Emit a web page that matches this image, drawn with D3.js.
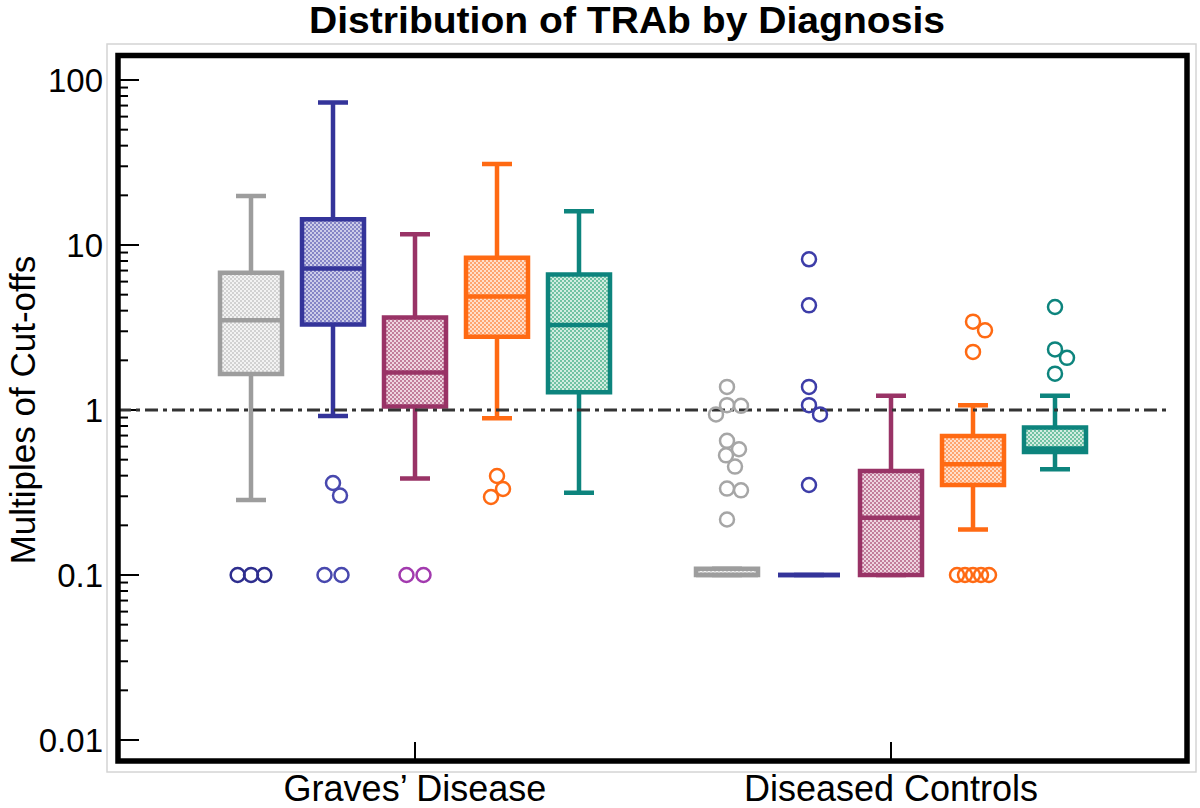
<!DOCTYPE html>
<html>
<head>
<meta charset="utf-8">
<script src="https://cdn.jsdelivr.net/npm/d3@7"></script>
<style>
  body { margin: 0; background: #fff; }
  svg { font-family: "Liberation Sans", Arial, sans-serif; }
</style>
</head>
<body>
<svg width="1200" height="808"></svg>
<script>
// data; every array below is [Graves' Disease, Diseased Controls]
const groups = ["Graves’ Disease", "Diseased Controls"];
const series = ["Assay 1", "Assay 2", "Assay 3", "Assay 4", "Assay 5"];

const whiskerLow  = [[0.285, 0.1], [0.92, 0.1], [0.385, 0.1], [0.89, 0.189], [0.315, 0.437]];
const q1          = [[1.65, 0.1], [3.3, 0.1], [1.05, 0.1], [2.78, 0.351], [1.28, 0.556]];
const median      = [[3.5, 0.1], [7.2, 0.1], [1.69, 0.222], [4.87, 0.469], [3.27, 0.585]];
const q3          = [[6.8, 0.109], [14.3, 0.1], [3.64, 0.427], [8.38, 0.695], [6.62, 0.782]];
const whiskerHigh = [[19.8, 0.109], [73, 0.1], [11.6, 1.22], [31, 1.07], [16, 1.22]];

const outliers = [
  [[0.1, 0.1, 0.1], [1.38, 1.07, 1.06, 0.94, 0.65, 0.578, 0.531, 0.454, 0.334, 0.326, 0.217]],
  [[0.361, 0.303, 0.1, 0.1], [8.19, 4.31, 1.38, 1.07, 0.94, 0.351]],
  [[0.1, 0.1], []],
  [[0.398, 0.332, 0.297], [3.43, 3.04, 2.25, 0.1, 0.1, 0.1, 0.1, 0.1]],
  [[], [4.21, 2.33, 2.07, 1.66]]
];

const yTicks = [0.01, 0.1, 1, 10, 100];
const yTickLabels = ["0.01", "0.1", "1", "10", "100"];
const cutoff = 1;

// styles
const strokeCol = ["#9d9d9d", "#34349a", "#993366", "#ff6a13", "#0d847d"];
const cellDark  = ["#d2d2d2", "#8585c6", "#c27d9b", "#ffa46e", "#70c2a3"];
const cellLight = ["#f3f3f3", "#cdcde9", "#eed5e0", "#ffdfcb", "#d2ece1"];
const dotCol = [["#2e2e8e", "#a6a6a6"], ["#4848ae", "#3d3da8"], ["#a23aae", "#993366"],
                ["#ff6a13", "#ff6a13"], ["#0d847d", "#0d847d"]];

const svg = d3.select("svg");

const x = d3.scalePoint().domain(groups).range([415, 891]);
const xs = d3.scaleBand().domain(series).range([-205, 205]);
const y = d3.scaleLog().domain([0.01, 100]).range([740, 80]);

const frame = { left: 118, right: 1187, top: y(100) - 24.5, bottom: y(0.01) + 21 };
const boxW = 62, capW = 30, r = 7;

// fill patterns
const defs = svg.append("defs");
series.forEach((s, i) => {
  const p = defs.append("pattern")
    .attr("id", "hatch" + i)
    .attr("patternUnits", "userSpaceOnUse")
    .attr("width", 4).attr("height", 4);
  p.append("rect").attr("width", 4).attr("height", 4).attr("fill", cellLight[i]);
  p.append("rect").attr("width", 2).attr("height", 2).attr("fill", cellDark[i]);
  p.append("rect").attr("x", 2).attr("y", 2).attr("width", 2).attr("height", 2).attr("fill", cellDark[i]);
});

// outer light border + title
svg.append("rect")
  .attr("x", 107).attr("y", 44)
  .attr("width", 1089).attr("height", 728)
  .attr("fill", "none").attr("stroke", "#d4d4d4").attr("stroke-width", 1.5);

svg.append("text")
  .attr("x", 627).attr("y", 33)
  .attr("text-anchor", "middle")
  .attr("textLength", 636)
  .attr("lengthAdjust", "spacingAndGlyphs")
  .style("font-weight", "bold").style("font-size", "36px")
  .text("Distribution of TRAb by Diagnosis");

// y ticks (major + minor), inward
const minor = [];
d3.range(-2, 2).forEach((e) => {
  d3.range(2, 10).forEach((m) => minor.push(m * Math.pow(10, e)));
});

svg.append("g").selectAll("line")
  .data(minor)
  .join("line")
  .attr("x1", frame.left).attr("x2", frame.left + 10)
  .attr("y1", (d) => y(d)).attr("y2", (d) => y(d))
  .attr("stroke", "#000").attr("stroke-width", 2);

svg.append("g").selectAll("line")
  .data(yTicks)
  .join("line")
  .attr("x1", frame.left).attr("x2", frame.left + 21)
  .attr("y1", (d) => y(d)).attr("y2", (d) => y(d))
  .attr("stroke", "#000").attr("stroke-width", 2);

svg.append("g").selectAll("text")
  .data(yTicks)
  .join("text")
  .attr("x", 103)
  .attr("y", (d) => y(d))
  .attr("dy", "0.36em")
  .attr("text-anchor", "end")
  .style("font-size", "33px")
  .text((d, i) => yTickLabels[i]);

svg.append("text")
  .attr("transform", `translate(35,${y(1)}) rotate(-90)`)
  .attr("text-anchor", "middle")
  .style("font-size", "35px")
  .text("Multiples of Cut-offs");

// x ticks + labels
svg.append("g").selectAll("line")
  .data(groups)
  .join("line")
  .attr("x1", (d) => x(d)).attr("x2", (d) => x(d))
  .attr("y1", frame.bottom).attr("y2", frame.bottom - 19)
  .attr("stroke", "#000").attr("stroke-width", 2);

svg.append("g").selectAll("text")
  .data(groups)
  .join("text")
  .attr("x", (d) => x(d))
  .attr("y", 801)
  .attr("text-anchor", "middle")
  .style("font-size", "36px")
  .text((d) => d);

// flatten boxes
const boxes = [];
series.forEach((s, i) => {
  groups.forEach((g, j) => {
    boxes.push({
      si: i, g, cx: x(g) + xs(s) + xs.bandwidth() / 2,
      lo: whiskerLow[i][j], q1: q1[i][j], med: median[i][j],
      q3: q3[i][j], hi: whiskerHigh[i][j], out: outliers[i][j], dot: dotCol[i][j]
    });
  });
});

const bx = svg.append("g").selectAll("g").data(boxes).join("g");

// whiskers
bx.append("path")
  .attr("d", (d) =>
    `M${d.cx},${y(d.q3)}V${y(d.hi)}M${d.cx - capW / 2},${y(d.hi)}h${capW}` +
    `M${d.cx},${y(d.q1)}V${y(d.lo)}M${d.cx - capW / 2},${y(d.lo)}h${capW}`)
  .attr("fill", "none")
  .attr("stroke", (d) => strokeCol[d.si])
  .attr("stroke-width", 4.5);

// boxes as paths so a flat box still shows
bx.append("path")
  .attr("d", (d) => {
    const x0 = d.cx - boxW / 2, top = y(d.q3), h = y(d.q1) - y(d.q3);
    return `M${x0},${top}h${boxW}v${h}h${-boxW}Z`;
  })
  .attr("fill", (d) => `url(#hatch${d.si})`)
  .attr("stroke", (d) => strokeCol[d.si])
  .attr("stroke-width", 4.5);

bx.append("line")
  .attr("x1", (d) => d.cx - boxW / 2).attr("x2", (d) => d.cx + boxW / 2)
  .attr("y1", (d) => y(d.med)).attr("y2", (d) => y(d.med))
  .attr("stroke", (d) => strokeCol[d.si])
  .attr("stroke-width", 4.5);

// cut-off line
svg.append("line")
  .attr("x1", frame.left).attr("x2", 1166)
  .attr("y1", y(cutoff)).attr("y2", y(cutoff))
  .attr("stroke", "#333")
  .attr("stroke-width", 3)
  .attr("stroke-dasharray", "13,5,4,5");

// outliers: ties spread side by side, the rest dodged so circles don't pile up
function placeDots(d) {
  const placed = [];
  const counts = d3.rollup(d.out, (v) => v.length, (v) => v);
  counts.forEach((n, v) => {
    if (n < 2) return;
    const step = Math.min(17, 40 / n);
    for (let i = 0; i < n; i++) {
      placed.push({ px: d.cx + (i - (n - 1) / 2) * step, py: y(v), c: d.dot });
    }
  });
  d.out.filter((v) => counts.get(v) === 1).forEach((v) => {
    const py = y(v);
    for (let k = 0; k < 80; k++) {
      const off = (k % 2 ? 1 : -1) * Math.ceil(k / 2);
      const px = d.cx + off;
      if (placed.every((p) => Math.hypot(p.px - px, p.py - py) >= 14)) {
        placed.push({ px, py, c: d.dot });
        break;
      }
    }
  });
  return placed;
}

svg.append("g").selectAll("circle")
  .data(boxes.flatMap(placeDots))
  .join("circle")
  .attr("cx", (d) => d.px)
  .attr("cy", (d) => d.py)
  .attr("r", r)
  .attr("fill", "none")
  .attr("stroke", (d) => d.c)
  .attr("stroke-width", 2.5);

// heavy frame
svg.append("rect")
  .attr("x", frame.left).attr("y", frame.top)
  .attr("width", frame.right - frame.left)
  .attr("height", frame.bottom - frame.top)
  .attr("fill", "none")
  .attr("stroke", "#000")
  .attr("stroke-width", 5.5);
</script>
</body>
</html>
